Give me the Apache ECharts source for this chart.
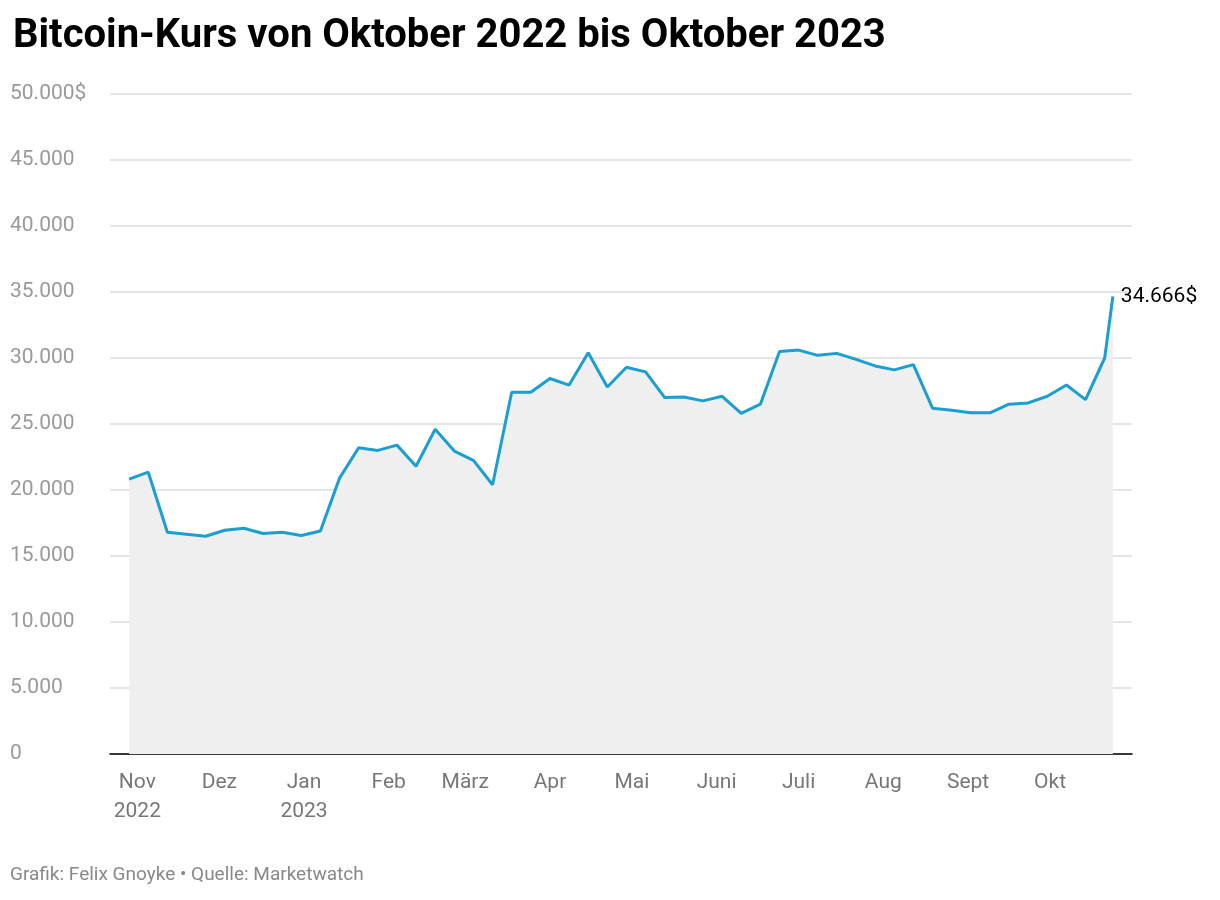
<!DOCTYPE html>
<html><head><meta charset="utf-8">
<script src="https://cdn.jsdelivr.net/npm/echarts@6/dist/echarts.min.js"></script>
<style>body{margin:0;background:#fff}#c{width:1220px;height:900px}</style>
</head><body><div id="c"></div>
<script>
// weekly closes from 2022-10-29, last point 2023-10-24
const startDate = '2022-10-29';
const lastDate = '2023-10-24';
const prices = [20830,21350,16800,16650,16500,16950,17100,16700,16800,16550,16900,20900,23200,23000,23400,21800,24600,22950,22250,20400,27400,27400,28450,27950,30400,27800,29300,28950,27000,27050,26750,27100,25800,26500,30500,30600,30200,30350,29900,29400,29100,29500,26200,26050,25850,25850,26500,26600,27100,27950,26850,30000,34666];
const monthNames = ['Jan','Feb','März','Apr','Mai','Juni','Juli','Aug','Sept','Okt','Nov','Dez'];

const DAY = 86400000;
const base = Date.UTC(2022, 9, 1);
const toDay = t => Math.round((t - base) / DAY);
const d0 = toDay(Date.parse(startDate + 'T00:00:00Z'));
const data = prices.map((v, i) => {
  const d = i === prices.length - 1 ? toDay(Date.parse(lastDate + 'T00:00:00Z')) : d0 + i * 7;
  return [d, v];
});
const monthStarts = [];
for (let m = 10; m <= 21; m++) monthStarts.push(toDay(Date.UTC(2022 + Math.floor(m / 12), m % 12, 1)));

const fmt = n => n.toLocaleString('de-DE');
const chart = echarts.init(document.getElementById('c'));
chart.setOption({
  animation: false,
  textStyle: { fontFamily: 'Roboto' },
  title: {
    text: 'Bitcoin-Kurs von Oktober 2022 bis Oktober 2023',
    left: 8, top: 12,
    textStyle: { fontSize: 40, fontWeight: 'bold', color: '#000', fontFamily: 'Roboto' }
  },
  graphic: [{
    type: 'text', left: 10, top: 866,
    style: { text: 'Grafik: Felix Gnoyke • Quelle: Marketwatch', fill: '#888', fontSize: 19, fontFamily: 'Roboto' }
  }],
  grid: { left: 110, right: 88, top: 94, bottom: 146 },
  xAxis: {
    type: 'value',
    min: data[0][0] - 7,
    max: data[data.length - 1][0] + 7,
    axisLine: { onZero: false, lineStyle: { color: '#000', width: 1.5 } },
    axisTick: { show: false },
    splitLine: { show: false },
    axisLabel: {
      customValues: monthStarts,
      fontSize: 21, color: '#777', margin: 14, lineHeight: 29,
      formatter: v => {
        const d = new Date(base + v * DAY);
        const m = d.getUTCMonth();
        let s = monthNames[m];
        if (m === 10 && d.getUTCFullYear() === 2022) s += '\n2022';
        if (m === 0) s += '\n' + d.getUTCFullYear();
        return s;
      }
    }
  },
  yAxis: {
    type: 'value', min: 0, max: 50000, interval: 5000,
    axisLine: { show: false }, axisTick: { show: false },
    splitLine: { lineStyle: { color: '#ddd', width: 1.5 } },
    axisLabel: {
      fontSize: 21, color: '#999', align: 'left', margin: 100,
      formatter: v => v === 50000 ? fmt(v) + '$' : fmt(v)
    }
  },
  series: [{
    type: 'line', data, symbol: 'none',
    lineStyle: { color: '#1a9fd0', width: 3 },
    areaStyle: { color: '#efefef', opacity: 1 },
    endLabel: {
      show: true, formatter: p => fmt(p.value[1]) + '$',
      fontSize: 21, color: '#000', distance: 8, fontFamily: 'Roboto'
    }
  }]
});
</script></body></html>
